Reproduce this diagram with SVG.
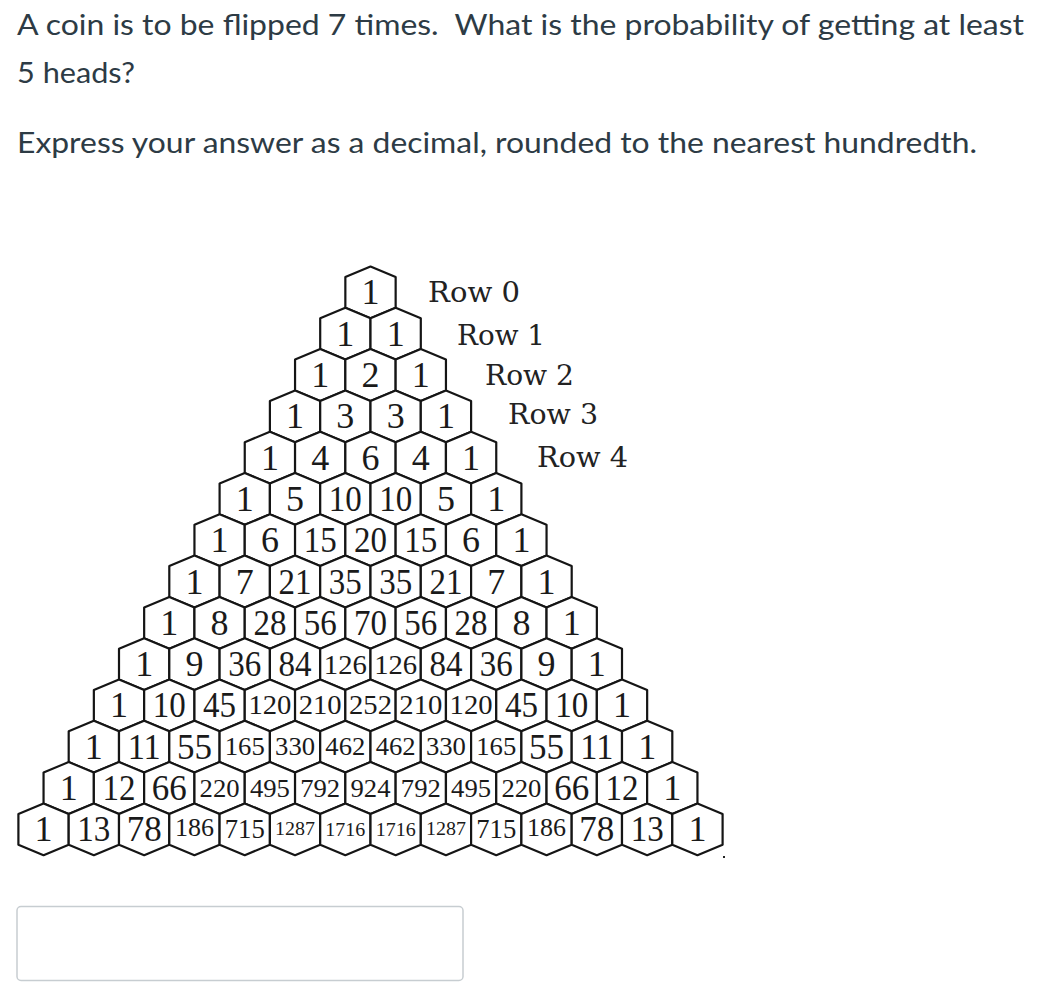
<svg xmlns="http://www.w3.org/2000/svg" xmlns:xlink="http://www.w3.org/1999/xlink" width="1038" height="998" viewBox="0 0 1038 998">
<style>
.q{font-family:Lato,"Noto Sans",sans-serif;font-size:28px;fill:#2d3b45}
.rl{font-family:"DejaVu Serif",serif;font-size:27px;fill:#222}
.d{font-family:"Liberation Serif",serif;font-size:36px;fill:#1a1a1a;text-anchor:middle}
.t3a{font-family:"Liberation Serif",serif;font-size:28px;fill:#1a1a1a;text-anchor:middle}
.t3b{font-family:"Liberation Serif",serif;font-size:25px;fill:#1a1a1a;text-anchor:middle}
.t4{font-family:"Liberation Serif",serif;font-size:19px;fill:#1a1a1a;text-anchor:middle}
.hx{fill:#fff;stroke:#151515;stroke-width:2.2;stroke-linejoin:round}
</style>
<defs>
<path id="hex" class="hx" d="M0,-25.9 L25.15,-15.4 L25.15,15.4 L0,25.9 L-25.15,15.4 L-25.15,-15.4 Z"/>
</defs>
<rect width="1038" height="998" fill="#fff"/>
<g id="question">
<text class="q" x="17" y="35" textLength="1007" lengthAdjust="spacingAndGlyphs" xml:space="preserve">A coin is to be flipped 7 times.  What is the probability of getting at least</text>
<text class="q" x="17" y="83" textLength="118" lengthAdjust="spacingAndGlyphs">5 heads?</text>
<text class="q" x="17" y="153" textLength="960" lengthAdjust="spacingAndGlyphs">Express your answer as a decimal, rounded to the nearest hundredth.</text>
</g>
<g id="connectors"></g>
<g id="row0" transform="translate(370.5,292.4)">
<g id="n0-0"><use href="#hex"/><text class="d" y="12">1</text></g>
</g>
<g id="row1" transform="translate(345.35,333.7)">
<g id="n1-0"><use href="#hex"/><text class="d" y="12">1</text></g>
<g id="n1-1" transform="translate(50.3,0)"><use href="#hex"/><text class="d" y="12">1</text></g>
</g>
<g id="row2" transform="translate(320.2,375)">
<g id="n2-0"><use href="#hex"/><text class="d" y="12">1</text></g>
<g id="n2-1" transform="translate(50.3,0)"><use href="#hex"/><text class="d" y="12">2</text></g>
<g id="n2-2" transform="translate(100.6,0)"><use href="#hex"/><text class="d" y="12">1</text></g>
</g>
<g id="row3" transform="translate(295.05,416.3)">
<g id="n3-0"><use href="#hex"/><text class="d" y="12">1</text></g>
<g id="n3-1" transform="translate(50.3,0)"><use href="#hex"/><text class="d" y="12">3</text></g>
<g id="n3-2" transform="translate(100.6,0)"><use href="#hex"/><text class="d" y="12">3</text></g>
<g id="n3-3" transform="translate(150.9,0)"><use href="#hex"/><text class="d" y="12">1</text></g>
</g>
<g id="row4" transform="translate(269.9,457.6)">
<g id="n4-0"><use href="#hex"/><text class="d" y="12">1</text></g>
<g id="n4-1" transform="translate(50.3,0)"><use href="#hex"/><text class="d" y="12">4</text></g>
<g id="n4-2" transform="translate(100.6,0)"><use href="#hex"/><text class="d" y="12">6</text></g>
<g id="n4-3" transform="translate(150.9,0)"><use href="#hex"/><text class="d" y="12">4</text></g>
<g id="n4-4" transform="translate(201.2,0)"><use href="#hex"/><text class="d" y="12">1</text></g>
</g>
<g id="row5" transform="translate(244.75,498.9)">
<g id="n5-0"><use href="#hex"/><text class="d" y="12">1</text></g>
<g id="n5-1" transform="translate(50.3,0)"><use href="#hex"/><text class="d" y="12">5</text></g>
<g id="n5-2" transform="translate(100.6,0)"><use href="#hex"/><text class="d" y="12" textLength="33" lengthAdjust="spacingAndGlyphs">10</text></g>
<g id="n5-3" transform="translate(150.9,0)"><use href="#hex"/><text class="d" y="12" textLength="33" lengthAdjust="spacingAndGlyphs">10</text></g>
<g id="n5-4" transform="translate(201.2,0)"><use href="#hex"/><text class="d" y="12">5</text></g>
<g id="n5-5" transform="translate(251.5,0)"><use href="#hex"/><text class="d" y="12">1</text></g>
</g>
<g id="row6" transform="translate(219.6,540.2)">
<g id="n6-0"><use href="#hex"/><text class="d" y="12">1</text></g>
<g id="n6-1" transform="translate(50.3,0)"><use href="#hex"/><text class="d" y="12">6</text></g>
<g id="n6-2" transform="translate(100.6,0)"><use href="#hex"/><text class="d" y="12" textLength="33" lengthAdjust="spacingAndGlyphs">15</text></g>
<g id="n6-3" transform="translate(150.9,0)"><use href="#hex"/><text class="d" y="12" textLength="33" lengthAdjust="spacingAndGlyphs">20</text></g>
<g id="n6-4" transform="translate(201.2,0)"><use href="#hex"/><text class="d" y="12" textLength="33" lengthAdjust="spacingAndGlyphs">15</text></g>
<g id="n6-5" transform="translate(251.5,0)"><use href="#hex"/><text class="d" y="12">6</text></g>
<g id="n6-6" transform="translate(301.8,0)"><use href="#hex"/><text class="d" y="12">1</text></g>
</g>
<g id="row7" transform="translate(194.45,581.5)">
<g id="n7-0"><use href="#hex"/><text class="d" y="12">1</text></g>
<g id="n7-1" transform="translate(50.3,0)"><use href="#hex"/><text class="d" y="12">7</text></g>
<g id="n7-2" transform="translate(100.6,0)"><use href="#hex"/><text class="d" y="12" textLength="33" lengthAdjust="spacingAndGlyphs">21</text></g>
<g id="n7-3" transform="translate(150.9,0)"><use href="#hex"/><text class="d" y="12" textLength="33" lengthAdjust="spacingAndGlyphs">35</text></g>
<g id="n7-4" transform="translate(201.2,0)"><use href="#hex"/><text class="d" y="12" textLength="33" lengthAdjust="spacingAndGlyphs">35</text></g>
<g id="n7-5" transform="translate(251.5,0)"><use href="#hex"/><text class="d" y="12" textLength="33" lengthAdjust="spacingAndGlyphs">21</text></g>
<g id="n7-6" transform="translate(301.8,0)"><use href="#hex"/><text class="d" y="12">7</text></g>
<g id="n7-7" transform="translate(352.1,0)"><use href="#hex"/><text class="d" y="12">1</text></g>
</g>
<g id="row8" transform="translate(169.3,622.8)">
<g id="n8-0"><use href="#hex"/><text class="d" y="12">1</text></g>
<g id="n8-1" transform="translate(50.3,0)"><use href="#hex"/><text class="d" y="12">8</text></g>
<g id="n8-2" transform="translate(100.6,0)"><use href="#hex"/><text class="d" y="12" textLength="33" lengthAdjust="spacingAndGlyphs">28</text></g>
<g id="n8-3" transform="translate(150.9,0)"><use href="#hex"/><text class="d" y="12" textLength="33" lengthAdjust="spacingAndGlyphs">56</text></g>
<g id="n8-4" transform="translate(201.2,0)"><use href="#hex"/><text class="d" y="12" textLength="33" lengthAdjust="spacingAndGlyphs">70</text></g>
<g id="n8-5" transform="translate(251.5,0)"><use href="#hex"/><text class="d" y="12" textLength="33" lengthAdjust="spacingAndGlyphs">56</text></g>
<g id="n8-6" transform="translate(301.8,0)"><use href="#hex"/><text class="d" y="12" textLength="33" lengthAdjust="spacingAndGlyphs">28</text></g>
<g id="n8-7" transform="translate(352.1,0)"><use href="#hex"/><text class="d" y="12">8</text></g>
<g id="n8-8" transform="translate(402.4,0)"><use href="#hex"/><text class="d" y="12">1</text></g>
</g>
<g id="row9" transform="translate(144.15,664.1)">
<g id="n9-0"><use href="#hex"/><text class="d" y="12">1</text></g>
<g id="n9-1" transform="translate(50.3,0)"><use href="#hex"/><text class="d" y="12">9</text></g>
<g id="n9-2" transform="translate(100.6,0)"><use href="#hex"/><text class="d" y="12" textLength="33" lengthAdjust="spacingAndGlyphs">36</text></g>
<g id="n9-3" transform="translate(150.9,0)"><use href="#hex"/><text class="d" y="12" textLength="33" lengthAdjust="spacingAndGlyphs">84</text></g>
<g id="n9-4" transform="translate(201.2,0)"><use href="#hex"/><text class="t3a" y="10" textLength="43" lengthAdjust="spacingAndGlyphs">126</text></g>
<g id="n9-5" transform="translate(251.5,0)"><use href="#hex"/><text class="t3a" y="10" textLength="43" lengthAdjust="spacingAndGlyphs">126</text></g>
<g id="n9-6" transform="translate(301.8,0)"><use href="#hex"/><text class="d" y="12" textLength="33" lengthAdjust="spacingAndGlyphs">84</text></g>
<g id="n9-7" transform="translate(352.1,0)"><use href="#hex"/><text class="d" y="12" textLength="33" lengthAdjust="spacingAndGlyphs">36</text></g>
<g id="n9-8" transform="translate(402.4,0)"><use href="#hex"/><text class="d" y="12">9</text></g>
<g id="n9-9" transform="translate(452.7,0)"><use href="#hex"/><text class="d" y="12">1</text></g>
</g>
<g id="row10" transform="translate(119,705.4)">
<g id="n10-0"><use href="#hex"/><text class="d" y="12">1</text></g>
<g id="n10-1" transform="translate(50.3,0)"><use href="#hex"/><text class="d" y="12" textLength="33" lengthAdjust="spacingAndGlyphs">10</text></g>
<g id="n10-2" transform="translate(100.6,0)"><use href="#hex"/><text class="d" y="12" textLength="33" lengthAdjust="spacingAndGlyphs">45</text></g>
<g id="n10-3" transform="translate(150.9,0)"><use href="#hex"/><text class="t3a" y="9" textLength="43" lengthAdjust="spacingAndGlyphs">120</text></g>
<g id="n10-4" transform="translate(201.2,0)"><use href="#hex"/><text class="t3a" y="9" textLength="43" lengthAdjust="spacingAndGlyphs">210</text></g>
<g id="n10-5" transform="translate(251.5,0)"><use href="#hex"/><text class="t3a" y="9" textLength="43" lengthAdjust="spacingAndGlyphs">252</text></g>
<g id="n10-6" transform="translate(301.8,0)"><use href="#hex"/><text class="t3a" y="9" textLength="43" lengthAdjust="spacingAndGlyphs">210</text></g>
<g id="n10-7" transform="translate(352.1,0)"><use href="#hex"/><text class="t3a" y="9" textLength="43" lengthAdjust="spacingAndGlyphs">120</text></g>
<g id="n10-8" transform="translate(402.4,0)"><use href="#hex"/><text class="d" y="12" textLength="33" lengthAdjust="spacingAndGlyphs">45</text></g>
<g id="n10-9" transform="translate(452.7,0)"><use href="#hex"/><text class="d" y="12" textLength="33" lengthAdjust="spacingAndGlyphs">10</text></g>
<g id="n10-10" transform="translate(503,0)"><use href="#hex"/><text class="d" y="12">1</text></g>
</g>
<g id="row11" transform="translate(93.85,746.7)">
<g id="n11-0"><use href="#hex"/><text class="d" y="12">1</text></g>
<g id="n11-1" transform="translate(50.3,0)"><use href="#hex"/><text class="d" y="12" textLength="33" lengthAdjust="spacingAndGlyphs">11</text></g>
<g id="n11-2" transform="translate(100.6,0)"><use href="#hex"/><text class="d" y="12" textLength="35" lengthAdjust="spacingAndGlyphs">55</text></g>
<g id="n11-3" transform="translate(150.9,0)"><use href="#hex"/><text class="t3b" y="8.5" textLength="40" lengthAdjust="spacingAndGlyphs">165</text></g>
<g id="n11-4" transform="translate(201.2,0)"><use href="#hex"/><text class="t3b" y="8.5" textLength="40" lengthAdjust="spacingAndGlyphs">330</text></g>
<g id="n11-5" transform="translate(251.5,0)"><use href="#hex"/><text class="t3b" y="8.5" textLength="40" lengthAdjust="spacingAndGlyphs">462</text></g>
<g id="n11-6" transform="translate(301.8,0)"><use href="#hex"/><text class="t3b" y="8.5" textLength="40" lengthAdjust="spacingAndGlyphs">462</text></g>
<g id="n11-7" transform="translate(352.1,0)"><use href="#hex"/><text class="t3b" y="8.5" textLength="40" lengthAdjust="spacingAndGlyphs">330</text></g>
<g id="n11-8" transform="translate(402.4,0)"><use href="#hex"/><text class="t3b" y="8.5" textLength="40" lengthAdjust="spacingAndGlyphs">165</text></g>
<g id="n11-9" transform="translate(452.7,0)"><use href="#hex"/><text class="d" y="12" textLength="35" lengthAdjust="spacingAndGlyphs">55</text></g>
<g id="n11-10" transform="translate(503,0)"><use href="#hex"/><text class="d" y="12" textLength="33" lengthAdjust="spacingAndGlyphs">11</text></g>
<g id="n11-11" transform="translate(553.3,0)"><use href="#hex"/><text class="d" y="12">1</text></g>
</g>
<g id="row12" transform="translate(68.7,788)">
<g id="n12-0"><use href="#hex"/><text class="d" y="12">1</text></g>
<g id="n12-1" transform="translate(50.3,0)"><use href="#hex"/><text class="d" y="12" textLength="33" lengthAdjust="spacingAndGlyphs">12</text></g>
<g id="n12-2" transform="translate(100.6,0)"><use href="#hex"/><text class="d" y="12" textLength="35" lengthAdjust="spacingAndGlyphs">66</text></g>
<g id="n12-3" transform="translate(150.9,0)"><use href="#hex"/><text class="t3b" y="8.5" textLength="40" lengthAdjust="spacingAndGlyphs">220</text></g>
<g id="n12-4" transform="translate(201.2,0)"><use href="#hex"/><text class="t3b" y="8.5" textLength="40" lengthAdjust="spacingAndGlyphs">495</text></g>
<g id="n12-5" transform="translate(251.5,0)"><use href="#hex"/><text class="t3b" y="8.5" textLength="40" lengthAdjust="spacingAndGlyphs">792</text></g>
<g id="n12-6" transform="translate(301.8,0)"><use href="#hex"/><text class="t3b" y="8.5" textLength="40" lengthAdjust="spacingAndGlyphs">924</text></g>
<g id="n12-7" transform="translate(352.1,0)"><use href="#hex"/><text class="t3b" y="8.5" textLength="40" lengthAdjust="spacingAndGlyphs">792</text></g>
<g id="n12-8" transform="translate(402.4,0)"><use href="#hex"/><text class="t3b" y="8.5" textLength="40" lengthAdjust="spacingAndGlyphs">495</text></g>
<g id="n12-9" transform="translate(452.7,0)"><use href="#hex"/><text class="t3b" y="8.5" textLength="40" lengthAdjust="spacingAndGlyphs">220</text></g>
<g id="n12-10" transform="translate(503,0)"><use href="#hex"/><text class="d" y="12" textLength="35" lengthAdjust="spacingAndGlyphs">66</text></g>
<g id="n12-11" transform="translate(553.3,0)"><use href="#hex"/><text class="d" y="12" textLength="33" lengthAdjust="spacingAndGlyphs">12</text></g>
<g id="n12-12" transform="translate(603.6,0)"><use href="#hex"/><text class="d" y="12">1</text></g>
</g>
<g id="row13" transform="translate(43.55,829.3)">
<g id="n13-0"><use href="#hex"/><text class="d" y="12">1</text></g>
<g id="n13-1" transform="translate(50.3,0)"><use href="#hex"/><text class="d" y="12" textLength="33" lengthAdjust="spacingAndGlyphs">13</text></g>
<g id="n13-2" transform="translate(100.6,0)"><use href="#hex"/><text class="d" y="12" textLength="35" lengthAdjust="spacingAndGlyphs">78</text></g>
<g id="n13-3" transform="translate(150.9,0)"><use href="#hex"/><text class="t3b" y="7" textLength="39" lengthAdjust="spacingAndGlyphs">186</text></g>
<g id="n13-4" transform="translate(201.2,0)"><use href="#hex"/><text class="t3b" y="9" textLength="40" lengthAdjust="spacingAndGlyphs" style="font-size:27px">715</text></g>
<g id="n13-5" transform="translate(251.5,0)"><use href="#hex"/><text class="t4" y="6" textLength="40" lengthAdjust="spacingAndGlyphs">1287</text></g>
<g id="n13-6" transform="translate(301.8,0)"><use href="#hex"/><text class="t4" y="7" textLength="40" lengthAdjust="spacingAndGlyphs">1716</text></g>
<g id="n13-7" transform="translate(352.1,0)"><use href="#hex"/><text class="t4" y="7" textLength="40" lengthAdjust="spacingAndGlyphs">1716</text></g>
<g id="n13-8" transform="translate(402.4,0)"><use href="#hex"/><text class="t4" y="6" textLength="40" lengthAdjust="spacingAndGlyphs">1287</text></g>
<g id="n13-9" transform="translate(452.7,0)"><use href="#hex"/><text class="t3b" y="9" textLength="40" lengthAdjust="spacingAndGlyphs" style="font-size:27px">715</text></g>
<g id="n13-10" transform="translate(503,0)"><use href="#hex"/><text class="t3b" y="7" textLength="39" lengthAdjust="spacingAndGlyphs">186</text></g>
<g id="n13-11" transform="translate(553.3,0)"><use href="#hex"/><text class="d" y="12" textLength="35" lengthAdjust="spacingAndGlyphs">78</text></g>
<g id="n13-12" transform="translate(603.6,0)"><use href="#hex"/><text class="d" y="12" textLength="33" lengthAdjust="spacingAndGlyphs">13</text></g>
<g id="n13-13" transform="translate(653.9,0)"><use href="#hex"/><text class="d" y="12">1</text></g>
</g>
<g id="row-labels">
<text class="rl" x="428" y="302" textLength="92" lengthAdjust="spacingAndGlyphs">Row 0</text>
<text class="rl" x="457" y="345" textLength="88" lengthAdjust="spacingAndGlyphs">Row 1</text>
<text class="rl" x="485" y="385" textLength="89" lengthAdjust="spacingAndGlyphs">Row 2</text>
<text class="rl" x="508" y="424" textLength="90" lengthAdjust="spacingAndGlyphs">Row 3</text>
<text class="rl" x="537" y="467" textLength="91" lengthAdjust="spacingAndGlyphs">Row 4</text>
</g>
<rect id="dot" x="723" y="856" width="2" height="2" fill="#222"/>
<g id="answer-box">
<rect x="17" y="906.5" width="446" height="74" rx="4" ry="4" fill="#fff" stroke="#c7cdd1" stroke-width="1.5"/>
</g>
</svg>
